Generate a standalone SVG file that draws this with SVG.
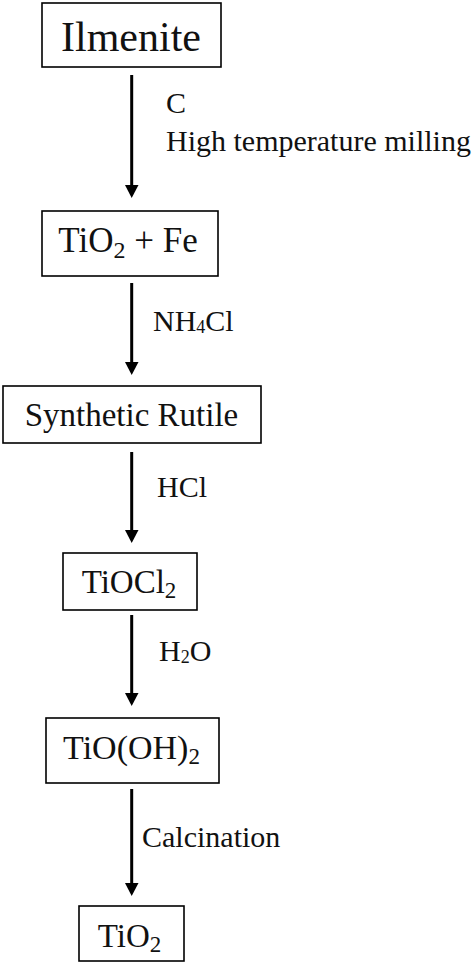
<svg xmlns="http://www.w3.org/2000/svg" width="474" height="965" viewBox="0 0 474 965">
<style>
.box{fill:#fff;stroke:#000;stroke-width:1.6}
.c{stroke:#000;stroke-width:3;fill:none}
.ah{fill:#000}
text{fill:#111;font-family:'Liberation Serif','Times New Roman','DejaVu Serif',serif}
.m{text-anchor:middle}
.l{font-size:30px}
</style>
<rect width="474" height="965" fill="#fff"/>
<g id="connectors">
<line class="c" x1="131.7" y1="75" x2="131.7" y2="190"/>
<path class="ah" d="M125,185 L138.5,185 L131.7,198 Z"/>
<line class="c" x1="131.7" y1="283" x2="131.7" y2="367"/>
<path class="ah" d="M125,362 L138.5,362 L131.7,375 Z"/>
<line class="c" x1="131.7" y1="452" x2="131.7" y2="535"/>
<path class="ah" d="M125,530 L138.5,530 L131.7,543 Z"/>
<line class="c" x1="131.7" y1="615" x2="131.7" y2="698"/>
<path class="ah" d="M125,693 L138.5,693 L131.7,706 Z"/>
<line class="c" x1="131.7" y1="789" x2="131.7" y2="888"/>
<path class="ah" d="M125,883 L138.5,883 L131.7,896 Z"/>
<text class="l" x="166" y="113">C</text>
<text class="l" x="166" y="151">High temperature milling</text>
<text class="l" x="153" y="331">NH<tspan font-size="18" dy="2">4</tspan><tspan dy="-2">Cl</tspan></text>
<text class="l" x="157" y="497">HCl</text>
<text class="l" x="159" y="661">H<tspan font-size="18" dy="2">2</tspan><tspan dy="-2">O</tspan></text>
<text class="l" x="142" y="847">Calcination</text>
</g>
<g id="ilmenite">
<rect class="box" x="42" y="3" width="179" height="64"/>
<text class="m" x="131" y="51" font-size="42">Ilmenite</text>
</g>
<g id="tio2fe">
<rect class="box" x="42" y="211" width="176" height="65"/>
<text class="m" x="128" y="252" font-size="35">TiO<tspan font-size="24" dy="6">2</tspan><tspan dy="-6"> + Fe</tspan></text>
</g>
<g id="rutile">
<rect class="box" x="3" y="386" width="258" height="57"/>
<text class="m" x="131.5" y="426" font-size="33">Synthetic Rutile</text>
</g>
<g id="tiocl2">
<rect class="box" x="63" y="553" width="134" height="57"/>
<text class="m" x="129" y="593" font-size="33">TiOCl<tspan font-size="23" dy="5">2</tspan></text>
</g>
<g id="tiooh2">
<rect class="box" x="46" y="718" width="173" height="65"/>
<text class="m" x="131.5" y="759" font-size="34">TiO(OH)<tspan font-size="23" dy="5">2</tspan></text>
</g>
<g id="tio2">
<rect class="box" x="79" y="906" width="105" height="55"/>
<text class="m" x="129.5" y="947" font-size="33">TiO<tspan font-size="23" dy="5">2</tspan></text>
</g>
</svg>
